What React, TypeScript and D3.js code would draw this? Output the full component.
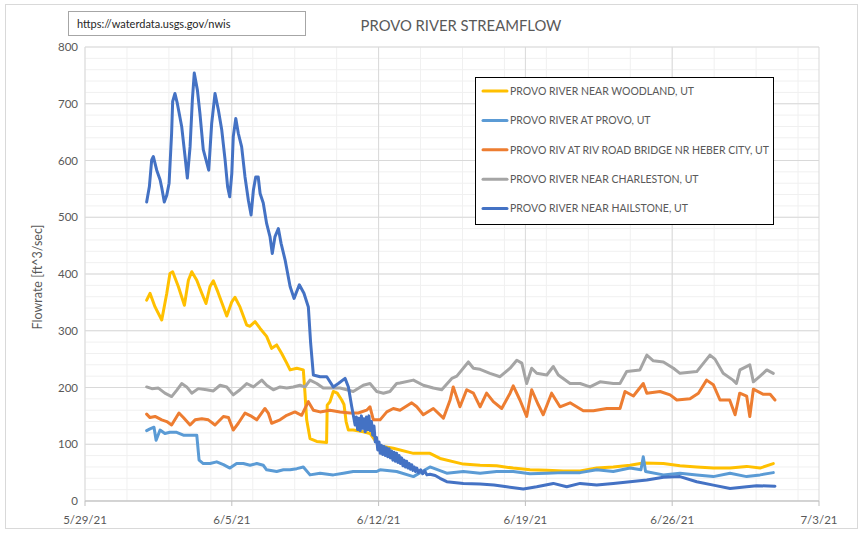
import React from "react";
import * as d3 from "d3";

// days after 5/29/21 00:00, flow (ft^3/sec)
const woodland: [number, number][] = [
  [2.94, 354], [3.10, 366], [3.34, 342], [3.66, 319], [3.90, 366], [4.05, 401], [4.18, 404],
  [4.45, 378], [4.74, 345], [4.93, 389], [5.09, 404], [5.33, 389], [5.57, 366], [5.77, 348],
  [5.96, 378], [6.12, 388], [6.34, 368], [6.60, 342], [6.76, 326], [7.00, 351], [7.15, 359],
  [7.39, 342], [7.71, 310], [7.87, 308], [8.11, 316], [8.35, 304], [8.66, 290], [8.90, 269],
  [9.14, 275], [9.38, 260], [9.62, 243], [9.78, 231], [10.10, 234], [10.41, 231], [10.49, 190],
  [10.57, 143], [10.73, 110], [11.05, 105], [11.52, 103], [11.55, 169], [11.68, 175],
  [11.84, 193], [12.03, 190], [12.24, 178], [12.35, 170], [12.45, 140], [12.56, 125],
  [12.79, 125], [13.27, 122], [13.59, 119], [13.83, 107], [14.07, 97], [14.70, 93],
  [15.66, 84], [16.45, 84], [16.93, 75], [18.04, 65], [18.84, 63], [19.63, 62], [20.42, 58],
  [21.22, 55], [22.02, 54], [22.81, 53], [23.61, 53], [24.40, 58], [25.19, 60], [25.99, 63],
  [26.62, 67], [27.58, 66], [28.37, 62], [29.17, 60], [29.96, 58], [30.76, 58], [31.55, 61],
  [32.19, 58], [32.82, 66],
];

const provo: [number, number][] = [
  [2.94, 124], [3.10, 127], [3.29, 130], [3.39, 107], [3.58, 125], [3.81, 119], [4.05, 121],
  [4.37, 121], [4.69, 116], [5.01, 116], [5.33, 116], [5.44, 72], [5.64, 66], [5.96, 66],
  [6.28, 69], [6.60, 64], [6.91, 58], [7.23, 66], [7.55, 66], [7.87, 63], [8.19, 66],
  [8.50, 63], [8.66, 55], [9.14, 52], [9.46, 55], [9.78, 55], [10.10, 57], [10.41, 60],
  [10.73, 46], [11.21, 49], [11.84, 46], [12.32, 49], [12.79, 52], [13.43, 52], [13.91, 52],
  [14.07, 55], [14.86, 52], [15.66, 43], [16.45, 60], [17.25, 49], [18.04, 52], [18.84, 49],
  [19.63, 52], [20.42, 52], [21.22, 48], [22.02, 49], [22.81, 50], [23.61, 50], [24.40, 55],
  [25.19, 52], [25.99, 58], [26.51, 55], [26.62, 78], [26.73, 52], [27.58, 46], [28.37, 49],
  [29.17, 46], [29.96, 43], [30.76, 49], [31.55, 43], [32.19, 46], [32.82, 50],
];

const heber: [number, number][] = [
  [2.94, 153], [3.10, 147], [3.34, 149], [3.66, 143], [3.90, 140], [4.13, 134], [4.48, 155],
  [4.69, 147], [5.01, 134], [5.25, 143], [5.57, 145], [5.88, 143], [6.20, 134], [6.60, 149],
  [6.84, 147], [7.07, 125], [7.31, 137], [7.63, 155], [7.95, 149], [8.19, 143], [8.58, 163],
  [8.74, 155], [8.90, 137], [9.30, 143], [9.62, 151], [10.01, 157], [10.33, 151], [10.65, 175],
  [10.89, 160], [11.21, 157], [11.68, 160], [12.16, 157], [12.64, 155], [13.03, 155],
  [13.43, 160], [13.59, 166], [13.75, 143], [14.07, 143], [14.39, 157], [14.70, 163],
  [15.02, 160], [15.58, 173], [15.82, 166], [16.13, 152], [16.61, 163], [17.09, 146],
  [17.41, 178], [17.56, 201], [17.88, 166], [18.20, 196], [18.52, 190], [18.84, 166],
  [19.15, 190], [19.47, 175], [19.87, 163], [20.27, 190], [20.42, 203], [20.74, 178],
  [21.06, 149], [21.30, 196], [21.61, 170], [21.85, 152], [22.25, 190], [22.65, 166],
  [23.13, 173], [23.76, 159], [24.24, 159], [24.88, 163], [25.51, 163], [25.75, 193],
  [26.15, 185], [26.62, 207], [26.79, 190], [27.42, 193], [27.90, 187], [28.22, 178],
  [28.85, 180], [29.25, 190], [29.64, 213], [29.96, 205], [30.28, 178], [30.74, 178],
  [31.00, 152], [31.22, 190], [31.55, 185], [31.70, 149], [31.87, 197], [32.35, 188],
  [32.67, 188], [32.90, 178],
];

const charleston: [number, number][] = [
  [2.94, 201], [3.19, 198], [3.50, 199], [3.81, 190], [4.13, 184], [4.37, 195], [4.61, 207],
  [4.85, 201], [5.09, 190], [5.40, 198], [5.80, 196], [6.12, 194], [6.44, 204], [6.76, 201],
  [7.07, 187], [7.39, 196], [7.71, 207], [8.03, 201], [8.43, 213], [8.66, 204], [8.98, 196],
  [9.30, 201], [9.62, 199], [9.93, 201], [10.25, 204], [10.49, 201], [10.73, 213],
  [11.05, 207], [11.36, 199], [11.84, 199], [12.16, 199], [12.48, 196], [12.79, 193],
  [13.27, 204], [13.59, 207], [13.91, 193], [14.23, 190], [14.54, 193], [14.86, 207],
  [15.02, 208], [15.66, 213], [16.13, 204], [16.61, 199], [17.01, 196], [17.49, 216],
  [17.73, 220], [18.28, 245], [18.52, 234], [18.84, 232], [19.31, 225], [19.79, 219],
  [20.27, 234], [20.59, 248], [20.83, 243], [21.06, 207], [21.30, 234], [21.54, 225],
  [22.02, 222], [22.33, 237], [22.57, 222], [23.13, 207], [23.61, 207], [24.08, 201],
  [24.56, 210], [25.19, 207], [25.51, 207], [25.83, 228], [26.46, 231], [26.79, 257],
  [27.10, 247], [27.58, 245], [28.06, 234], [28.37, 225], [29.17, 228], [29.80, 257],
  [30.04, 250], [30.43, 225], [30.90, 213], [31.06, 207], [31.23, 231], [31.70, 240],
  [31.87, 210], [32.19, 220], [32.51, 231], [32.82, 225],
];

const hailstone: [number, number][] = [
  [2.94, 527], [3.07, 554], [3.18, 601], [3.26, 607], [3.42, 583], [3.58, 566], [3.66, 552],
  [3.78, 527], [3.90, 539], [4.01, 560], [4.13, 648], [4.18, 704], [4.29, 718], [4.40, 701],
  [4.61, 660], [4.77, 607], [4.88, 569], [5.01, 624], [5.12, 707], [5.21, 754], [5.36, 724],
  [5.48, 683], [5.64, 619], [5.77, 601], [5.90, 583], [6.04, 665], [6.20, 718], [6.36, 689],
  [6.52, 654], [6.68, 601], [6.80, 554], [6.90, 536], [7.00, 577], [7.07, 642], [7.19, 674],
  [7.31, 648], [7.47, 624], [7.63, 571], [7.79, 530], [7.92, 504], [8.03, 548], [8.14, 571],
  [8.26, 571], [8.35, 542], [8.50, 525], [8.66, 489], [8.82, 466], [8.93, 436], [9.06, 466],
  [9.22, 480], [9.35, 454], [9.54, 425], [9.78, 378], [9.97, 357], [10.22, 381], [10.44, 366],
  [10.65, 342], [10.76, 278], [10.89, 222], [11.21, 219], [11.53, 219], [11.84, 201],
  [12.08, 207], [12.40, 216], [12.56, 201], [12.72, 166], [12.88, 134], [12.94, 148],
  [13.00, 126], [13.06, 146], [13.12, 124], [13.18, 150], [13.24, 128], [13.30, 145],
  [13.36, 122], [13.42, 148], [13.48, 126], [13.54, 150], [13.60, 124], [13.66, 140],
  [13.72, 116], [13.78, 132], [13.84, 104], [13.90, 112], [13.96, 90], [14.02, 104],
  [14.08, 84], [14.14, 98], [14.20, 82], [14.26, 96], [14.32, 80], [14.38, 94], [14.44, 78],
  [14.50, 92], [14.56, 76], [14.62, 88], [14.68, 72], [14.74, 86], [14.80, 70], [14.86, 84],
  [14.92, 68], [14.98, 80], [15.04, 66], [15.10, 76], [15.16, 62], [15.22, 72], [15.28, 60],
  [15.34, 70], [15.40, 58], [15.46, 66], [15.52, 56], [15.58, 64], [15.64, 54], [15.70, 60],
  [15.76, 52], [15.82, 58], [15.90, 50], [16.00, 55], [16.10, 48], [16.20, 53], [16.30, 46],
  [16.45, 47], [16.70, 45], [16.93, 40], [17.25, 34],
  [18.04, 31], [18.84, 30], [19.50, 28], [20.11, 25], [20.90, 21], [21.54, 25], [22.33, 31],
  [22.97, 25], [23.61, 31], [24.40, 28], [25.19, 31], [25.99, 34], [26.79, 37], [27.58, 42],
  [28.37, 43], [29.17, 34], [29.96, 28], [30.76, 22], [31.55, 25], [32.03, 27], [32.90, 26],
];

const seriesNames = [
  "PROVO RIVER NEAR WOODLAND, UT",
  "PROVO RIVER AT PROVO, UT",
  "PROVO RIV AT RIV ROAD BRIDGE NR HEBER CITY, UT",
  "PROVO RIVER NEAR CHARLESTON, UT",
  "PROVO RIVER NEAR HAILSTONE, UT",
];
const seriesData = [woodland, provo, heber, charleston, hailstone];
const seriesColors = ["#FFC000", "#5B9BD5", "#ED7D31", "#A5A5A5", "#4472C4"];

const yTicks = [0, 100, 200, 300, 400, 500, 600, 700, 800];
const xTickLabels = ["5/29/21", "6/5/21", "6/12/21", "6/19/21", "6/26/21", "7/3/21"];

const title = "PROVO RIVER STREAMFLOW";
const sourceText = "https://waterdata.usgs.gov/nwis";
const yTitle = "Flowrate [ft^3/sec]";

const FONT = "Lato, 'Liberation Sans', Arial, sans-serif";

export default function App() {
  const W = 863, H = 534;
  const left = 85, right = 819, top = 47, bottom = 501;
  const start = new Date(2021, 4, 29);
  const end = new Date(2021, 6, 3);
  const x = d3.scaleTime().domain([start, end]).range([left, right]);
  const y = d3.scaleLinear().domain([0, 800]).range([bottom, top]);
  const toDate = (d: number) => new Date(start.getTime() + d * 86400000);

  const majorXs = xTickLabels.map((_, i) => d3.timeDay.offset(start, i * 7));
  const minorX = d3.range(0, 36, 2).map((k) => d3.timeDay.offset(start, k));
  const minorY = d3.range(0, 801, 20);

  const line = d3
    .line<[number, number]>()
    .x((p) => x(toDate(p[0])))
    .y((p) => y(p[1]));

  return (
    <svg width={W} height={H} style={{ position: "absolute", left: 0, top: 0, background: "#fff" }}>
      <rect x={0} y={0} width={W} height={H} fill="#fff" />
      <rect x={5.5} y={4.5} width={852} height={524} fill="none" stroke="#D9D9D9" />
      {/* minor grid */}
      {minorY.map((v) => (
        <line key={"my" + v} x1={left} x2={right} y1={y(v)} y2={y(v)} stroke="#F0F0F0" />
      ))}
      {minorX.map((d, i) => (
        <line key={"mx" + i} x1={x(d)} x2={x(d)} y1={top} y2={bottom} stroke="#F0F0F0" />
      ))}
      {/* major grid */}
      {yTicks.map((v) => (
        <line key={"y" + v} x1={left} x2={right} y1={y(v)} y2={y(v)} stroke="#D9D9D9" />
      ))}
      {majorXs.map((d, i) => (
        <line key={"x" + i} x1={x(d)} x2={x(d)} y1={top} y2={bottom} stroke="#D9D9D9" />
      ))}
      {/* x axis */}
      <line x1={left} x2={right} y1={bottom} y2={bottom} stroke="#BFBFBF" />
      {majorXs.map((d, i) => (
        <line key={"xt" + i} x1={x(d)} x2={x(d)} y1={bottom} y2={bottom + 5} stroke="#BFBFBF" />
      ))}
      {majorXs.map((d, i) => (
        <text key={"xl" + i} x={x(d)} y={bottom + 23} textAnchor="middle" fontFamily={FONT}
          fontSize={11.5} fill="#595959">{xTickLabels[i]}</text>
      ))}
      {yTicks.map((v) => (
        <text key={"yl" + v} x={left - 7} y={y(v) + 4} textAnchor="end" fontFamily={FONT}
          fontSize={11.5} fill="#595959">{v}</text>
      ))}
      <text transform={`translate(42,${(top + bottom) / 2 + 3}) rotate(-90)`} textAnchor="middle"
        fontFamily={FONT} fontSize={12.5} fill="#595959">{yTitle}</text>
      {/* series */}
      {seriesData.map((s, i) => (
        <path key={"s" + i} d={line(s) || ""} fill="none" stroke={seriesColors[i]}
          strokeWidth={3} strokeLinejoin="round" strokeLinecap="round" />
      ))}
      {/* title */}
      <text x={461} y={31} textAnchor="middle" fontFamily={FONT} fontSize={14.8} fill="#595959">
        {title}
      </text>
      {/* source box */}
      <rect x={68.5} y={11.5} width={237} height={24} fill="#fff" stroke="#A6A6A6" />
      <text x={77} y={27.5} fontFamily={FONT} fontSize={11} fill="#262626">{sourceText}</text>
      {/* legend */}
      <rect x={475.5} y={77.5} width={298} height={147} fill="#fff" stroke="#000" />
      {seriesNames.map((n, i) => {
        const ly = 91 + i * 29.4;
        return (
          <g key={"lg" + i}>
            <line x1={483} x2={507} y1={ly} y2={ly} stroke={seriesColors[i]} strokeWidth={3}
              strokeLinecap="round" />
            <text x={510} y={ly + 3.8} fontFamily={FONT} fontSize={10.5} fill="#595959">{n}</text>
          </g>
        );
      })}
    </svg>
  );
}
